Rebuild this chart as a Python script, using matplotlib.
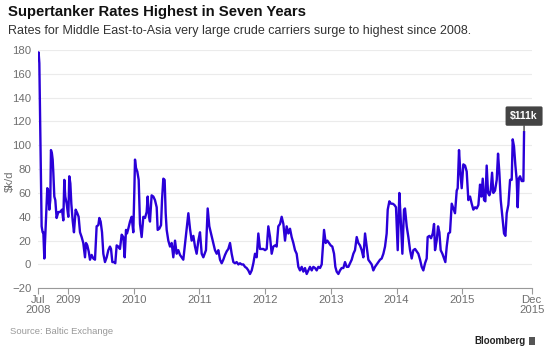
import matplotlib
matplotlib.use("Agg")
import matplotlib.pyplot as plt
from matplotlib.patches import Rectangle

# VLCC Middle East-to-Asia rates, $k/day
years = [
    2008.548, 2008.553, 2008.564, 2008.599, 2008.614, 2008.625, 2008.640, 2008.660,
    2008.685, 2008.701, 2008.716, 2008.731, 2008.741, 2008.756, 2008.767, 2008.777,
    2008.792, 2008.807, 2008.827, 2008.853, 2008.878, 2008.909, 2008.929, 2008.944,
    2008.959, 2008.980, 2009.005, 2009.020, 2009.036, 2009.051, 2009.071, 2009.091,
    2009.117, 2009.142, 2009.162, 2009.183, 2009.208, 2009.233, 2009.259, 2009.274,
    2009.294, 2009.315, 2009.335, 2009.360, 2009.386, 2009.411, 2009.436, 2009.462,
    2009.477, 2009.497, 2009.518, 2009.538, 2009.563, 2009.589, 2009.614, 2009.639,
    2009.655, 2009.675, 2009.700, 2009.720, 2009.741, 2009.766, 2009.791, 2009.817,
    2009.842, 2009.863, 2009.883, 2009.898, 2009.918, 2009.944, 2009.969, 2009.994,
    2010.010, 2010.020, 2010.035, 2010.055, 2010.076, 2010.096, 2010.121, 2010.147,
    2010.172, 2010.197, 2010.213, 2010.233, 2010.248, 2010.273, 2010.299, 2010.324,
    2010.350, 2010.365, 2010.390, 2010.416, 2010.431, 2010.451, 2010.471, 2010.487,
    2010.502, 2010.527, 2010.553, 2010.578, 2010.603, 2010.629, 2010.654, 2010.679,
    2010.705, 2010.755, 2010.832, 2010.857, 2010.882, 2010.908, 2010.933, 2010.958,
    2010.984, 2011.009, 2011.035, 2011.060, 2011.100, 2011.126, 2011.151, 2011.177,
    2011.212, 2011.237, 2011.263, 2011.288, 2011.314, 2011.339, 2011.364, 2011.390,
    2011.415, 2011.440, 2011.466, 2011.491, 2011.517, 2011.542, 2011.567, 2011.593,
    2011.618, 2011.643, 2011.669, 2011.694, 2011.719, 2011.745, 2011.770, 2011.796,
    2011.821, 2011.846, 2011.872, 2011.897, 2011.922, 2011.948, 2011.973, 2011.999,
    2012.024, 2012.049, 2012.075, 2012.100, 2012.125, 2012.151, 2012.176, 2012.201,
    2012.227, 2012.252, 2012.278, 2012.303, 2012.328, 2012.354, 2012.379, 2012.404,
    2012.430, 2012.455, 2012.480, 2012.506, 2012.531, 2012.557, 2012.582, 2012.607,
    2012.633, 2012.658, 2012.683, 2012.709, 2012.734, 2012.760, 2012.785, 2012.810,
    2012.836, 2012.861, 2012.897, 2012.922, 2012.947, 2012.973, 2012.998, 2013.023,
    2013.049, 2013.069, 2013.089, 2013.115, 2013.140, 2013.165, 2013.191, 2013.216,
    2013.242, 2013.267, 2013.292, 2013.318, 2013.343, 2013.368, 2013.394, 2013.419,
    2013.444, 2013.470, 2013.495, 2013.521, 2013.546, 2013.571, 2013.597, 2013.622,
    2013.647, 2013.673, 2013.698, 2013.724, 2013.749, 2013.774, 2013.800, 2013.825,
    2013.850, 2013.866, 2013.891, 2013.916, 2013.942, 2013.967, 2013.992, 2014.018,
    2014.043, 2014.063, 2014.089, 2014.114, 2014.129, 2014.155, 2014.180, 2014.206,
    2014.231, 2014.256, 2014.282, 2014.307, 2014.332, 2014.358, 2014.383, 2014.408,
    2014.434, 2014.459, 2014.474, 2014.500, 2014.525, 2014.551, 2014.571, 2014.586,
    2014.611, 2014.632, 2014.652, 2014.672, 2014.698, 2014.723, 2014.743, 2014.764,
    2014.789, 2014.814, 2014.840, 2014.865, 2014.890, 2014.916, 2014.931, 2014.951,
    2014.972, 2014.992, 2015.017, 2015.043, 2015.068, 2015.093, 2015.119, 2015.144,
    2015.169, 2015.195, 2015.220, 2015.246, 2015.271, 2015.291, 2015.312, 2015.332,
    2015.352, 2015.372, 2015.393, 2015.413, 2015.433, 2015.454, 2015.474, 2015.499,
    2015.525, 2015.545, 2015.565, 2015.586, 2015.616, 2015.636, 2015.657, 2015.677,
    2015.702, 2015.728, 2015.753, 2015.768, 2015.788, 2015.809, 2015.829, 2015.844,
    2015.860, 2015.880, 2015.905, 2015.931, 2015.941,
]
rates = [
    172, 178, 169, 32, 27, 27, 5, 32,
    64, 62, 46, 54, 96, 93, 88, 77,
    57, 54, 39, 44, 44, 46, 37, 71,
    57, 51, 40, 74, 68, 51, 37, 27,
    46, 43, 40, 27, 23, 18, 6, 18,
    16, 11, 4, 8, 5, 4, 32, 33,
    39, 36, 27, 9, 2, 6, 12, 15,
    13, 2, 2, 1, 16, 15, 13, 25,
    23, 6, 29, 26, 30, 36, 40, 27,
    62, 88, 81, 78, 71, 34, 23, 40,
    39, 44, 57, 40, 36, 58, 57, 54,
    48, 29, 30, 33, 54, 72, 71, 43,
    29, 20, 15, 18, 6, 20, 9, 12,
    8, 4, 43, 30, 20, 24, 15, 9,
    20, 27, 9, 6, 12, 47, 32, 26,
    18, 12, 9, 12, 4, 1, 4, 8,
    11, 13, 18, 9, 2, 1, 2, 0,
    1, 0, 0, -2, -3, -5, -8, -5,
    1, 9, 6, 26, 13, 13, 13, 12,
    13, 32, 23, 9, 15, 16, 15, 32,
    34, 40, 34, 20, 32, 26, 30, 23,
    18, 12, 9, -2, -5, -2, -6, -3,
    -8, -5, -2, -5, -2, -3, -5, -2,
    -3, 0, 29, 18, 20, 18, 16, 15,
    9, -2, -6, -8, -5, -3, -3, 2,
    -2, -2, 1, 4, 9, 12, 23, 18,
    16, 12, 6, 26, 15, 4, 2, 0,
    -5, -2, 0, 2, 4, 5, 9, 15,
    26, 46, 53, 51, 51, 50, 48, 12,
    60, 39, 9, 46, 47, 32, 23, 12,
    5, 12, 13, 11, 9, 4, -2, -5,
    1, 5, 23, 24, 22, 26, 34, 12,
    20, 32, 27, 12, 9, 5, 2, 15,
    26, 27, 51, 47, 43, 62, 64, 96,
    77, 64, 84, 83, 78, 54, 57, 51,
    46, 48, 47, 50, 67, 57, 72, 54,
    53, 83, 60, 58, 62, 77, 60, 62,
    71, 93, 77, 54, 37, 26, 24, 43,
    50, 71, 71, 105, 99, 83, 71, 48,
    72, 74, 70, 70, 111,
]

y_ticks = [-20, 0, 20, 40, 60, 80, 100, 120, 140, 160, 180]
x_start, x_end = 2008.548, 2016.057
x_ticks = [x_start, 2009, 2010, 2011, 2012, 2013, 2014, 2015, x_end]
x_labels = ["Jul\n2008", "2009", "2010", "2011", "2012", "2013", "2014", "2015", "Dec\n2015"]

LINE = "#2a00d8"
GREY = "#6f6f6f"
SANS = ["Liberation Sans", "DejaVu Sans"]
plt.rcParams["font.family"] = SANS

fig = plt.figure(figsize=(5.5, 3.52), dpi=100)
ax = fig.add_axes([0.0696, 0.181, 0.8971, 0.677])

ax.plot(years, rates, color=LINE, lw=1.7, solid_joinstyle="round", zorder=3)

ax.set_xlim(x_start, x_end)
ax.set_ylim(-20, 180)
ax.set_yticks(y_ticks)
ax.set_xticks(x_ticks)
ax.set_xticklabels(x_labels, linespacing=0.95)
ax.grid(axis="y", color="#ebebeb", lw=0.8, zorder=0)
ax.tick_params(axis="y", length=0, pad=5, labelsize=8.2, labelcolor=GREY)
ax.tick_params(axis="x", length=4, width=0.8, color="#999999", pad=1,
               labelsize=8.2, labelcolor=GREY)
for side in ("top", "right", "left"):
    ax.spines[side].set_visible(False)
ax.spines["bottom"].set_color("#999999")
ax.spines["bottom"].set_linewidth(0.8)
ax.set_ylabel("\\$k/d", fontsize=8.2, color=GREY)
ax.yaxis.set_label_coords(-0.047, 0.45)

ax.annotate("\\$111k", xy=(years[-1], rates[-1]), xytext=(0, 8),
            textcoords="offset points", ha="center", va="bottom",
            fontsize=7.5, fontweight="bold", color="white",
            bbox=dict(boxstyle="round,pad=0.45,rounding_size=0.15",
                      fc="#444444", ec="none"),
            arrowprops=dict(arrowstyle="-", color="#444444", lw=1, shrinkA=0, shrinkB=1))

fig.text(0.015, 0.965, "Supertanker Rates Highest in Seven Years",
         fontsize=10.7, fontweight="bold", color="#111111", va="center")
fig.text(0.015, 0.913,
         "Rates for Middle East-to-Asia very large crude carriers surge to highest since 2008.",
         fontsize=9.0, color="#333333", va="center")
fig.text(0.018, 0.057, "Source: Baltic Exchange", fontsize=6.8, color="#999999", va="center")
fig.text(0.955, 0.031, "Bloomberg", fontsize=7, fontweight="bold", color="#222222",
         ha="right", va="center")
fig.patches.append(Rectangle((0.961, 0.020), 0.011, 0.022, transform=fig.transFigure,
                             facecolor="#555555", edgecolor="none"))

fig.savefig("out.png", dpi=100, facecolor="white")
